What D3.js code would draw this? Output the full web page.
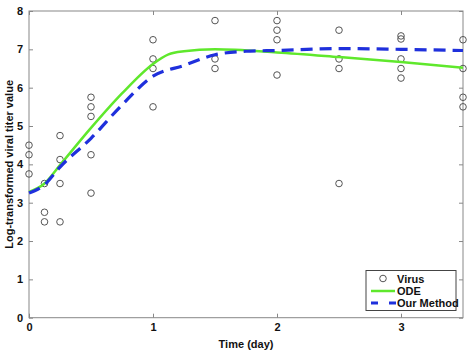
<!DOCTYPE html>
<html><head><meta charset="utf-8">
<script src="https://cdn.jsdelivr.net/npm/d3@7"></script>
<style>body{margin:0;background:#fff}svg{display:block}text{font-family:Arial,"Liberation Sans",sans-serif;font-weight:bold;fill:#111}</style>
</head><body><svg id="c" width="474" height="353"></svg>
<script>
const virusX = [0,0,0, 0.125,0.125,0.125, 0.25,0.25,0.25,0.25, 0.5,0.5,0.5,0.5,0.5, 1,1,1,1, 1.5,1.5,1.5, 2,2,2,2, 2.5,2.5,2.5,2.5, 3,3,3,3,3, 3.5,3.5,3.5,3.5];
const virusY = [4.5,4.25,3.75, 3.5,2.75,2.5, 4.75,4.125,3.5,2.5, 5.75,5.5,5.25,4.25,3.25, 7.25,6.75,6.5,5.5, 7.75,6.75,6.5, 7.75,7.5,7.25,6.33, 7.5,6.75,6.5,3.5, 7.35,7.27,6.75,6.5,6.25, 7.25,6.5,5.75,5.5];
const odeX = [0,0.125,0.25,0.5,0.75,1.0,1.125,1.25,1.5,2,2.5,3,3.5];
const odeY = [3.28,3.5,3.98,4.95,5.85,6.62,6.87,6.95,7.0,6.92,6.8,6.67,6.52];
const ourX = [0,0.125,0.25,0.5,0.75,1.0,1.25,1.5,1.75,2,2.5,3,3.5];
const ourY = [3.25,3.47,3.93,4.68,5.55,6.3,6.58,6.86,6.95,6.97,7.02,7.0,6.97];
const xTicks = [0,1,2,3];
const yTicks = [0,1,2,3,4,5,6,7,8];
const legendLabels = ["Virus","ODE","Our Method"];

const svg = d3.select("#c");
const L=29,R=463,T=11,B=317.7;
const x = d3.scaleLinear().domain([0,3.5]).range([L,R]);
const y = d3.scaleLinear().domain([0,8]).range([B,T]);
const axisColor="#888";

svg.append("rect").attr("x",L).attr("y",T).attr("width",R-L).attr("height",B-T)
  .attr("fill","none").attr("stroke",axisColor).attr("stroke-width",1);

function styleAxis(g){
  g.select(".domain").remove();
  g.selectAll(".tick line").attr("stroke",axisColor);
  g.selectAll(".tick text").attr("font-size","11px").attr("fill","#111").attr("font-weight","bold");
}
svg.append("g").attr("transform",`translate(0,${B})`)
  .call(d3.axisBottom(x).tickValues(xTicks).tickFormat(d3.format("d")).tickSizeInner(-4).tickPadding(6))
  .call(styleAxis);
svg.append("g").attr("transform",`translate(0,${T})`)
  .call(d3.axisTop(x).tickValues(xTicks).tickFormat("").tickSizeInner(-4))
  .call(styleAxis);
svg.append("g").attr("transform",`translate(${L},0)`)
  .call(d3.axisLeft(y).tickValues(yTicks).tickFormat(d3.format("d")).tickSizeInner(-4).tickPadding(6))
  .call(styleAxis);
svg.append("g").attr("transform",`translate(${R},0)`)
  .call(d3.axisRight(y).tickValues(yTicks).tickFormat("").tickSizeInner(-4))
  .call(styleAxis);

svg.append("g").selectAll("circle").data(virusX.map((d,i)=>[d,virusY[i]])).join("circle")
  .attr("cx",d=>x(d[0])).attr("cy",d=>y(d[1])).attr("r",3.3)
  .attr("fill","none").attr("stroke","#555").attr("stroke-width",1);

const line = d3.line().x(d=>x(d[0])).y(d=>y(d[1])).curve(d3.curveMonotoneX);
svg.append("path").datum(odeX.map((d,i)=>[d,odeY[i]])).attr("d",line)
  .attr("fill","none").attr("stroke","#5fe82c").attr("stroke-width",2.5);
svg.append("path").datum(ourX.map((d,i)=>[d,ourY[i]])).attr("d",line)
  .attr("fill","none").attr("stroke","#1f30dc").attr("stroke-width",3.2).attr("stroke-dasharray","12,7");

svg.append("text").attr("x",(L+R)/2).attr("y",348).attr("text-anchor","middle").attr("font-size","11px").text("Time (day)");
svg.append("text").attr("transform",`translate(13,${(T+B)/2}) rotate(-90)`).attr("text-anchor","middle").attr("font-size","11px").text("Log-transformed viral titer value");

const lg = svg.append("g");
lg.append("rect").attr("x",366).attr("y",270.5).attr("width",90).attr("height",40)
  .attr("fill","#fff").attr("stroke","#444").attr("stroke-width",1);
const ly=[278.5,291,303];
lg.append("circle").attr("cx",383).attr("cy",ly[0]).attr("r",3.3).attr("fill","none").attr("stroke","#555");
lg.append("line").attr("x1",371).attr("x2",395).attr("y1",ly[1]).attr("y2",ly[1]).attr("stroke","#5fe82c").attr("stroke-width",2.5);
lg.append("line").attr("x1",371).attr("x2",396).attr("y1",ly[2]).attr("y2",ly[2]).attr("stroke","#1f30dc").attr("stroke-width",3.2).attr("stroke-dasharray","7,11");
lg.selectAll("text.l").data(legendLabels).join("text").attr("class","l")
  .attr("x",397).attr("y",(d,i)=>ly[i]+4).attr("font-size","11px").text(d=>d);
</script></body></html>
